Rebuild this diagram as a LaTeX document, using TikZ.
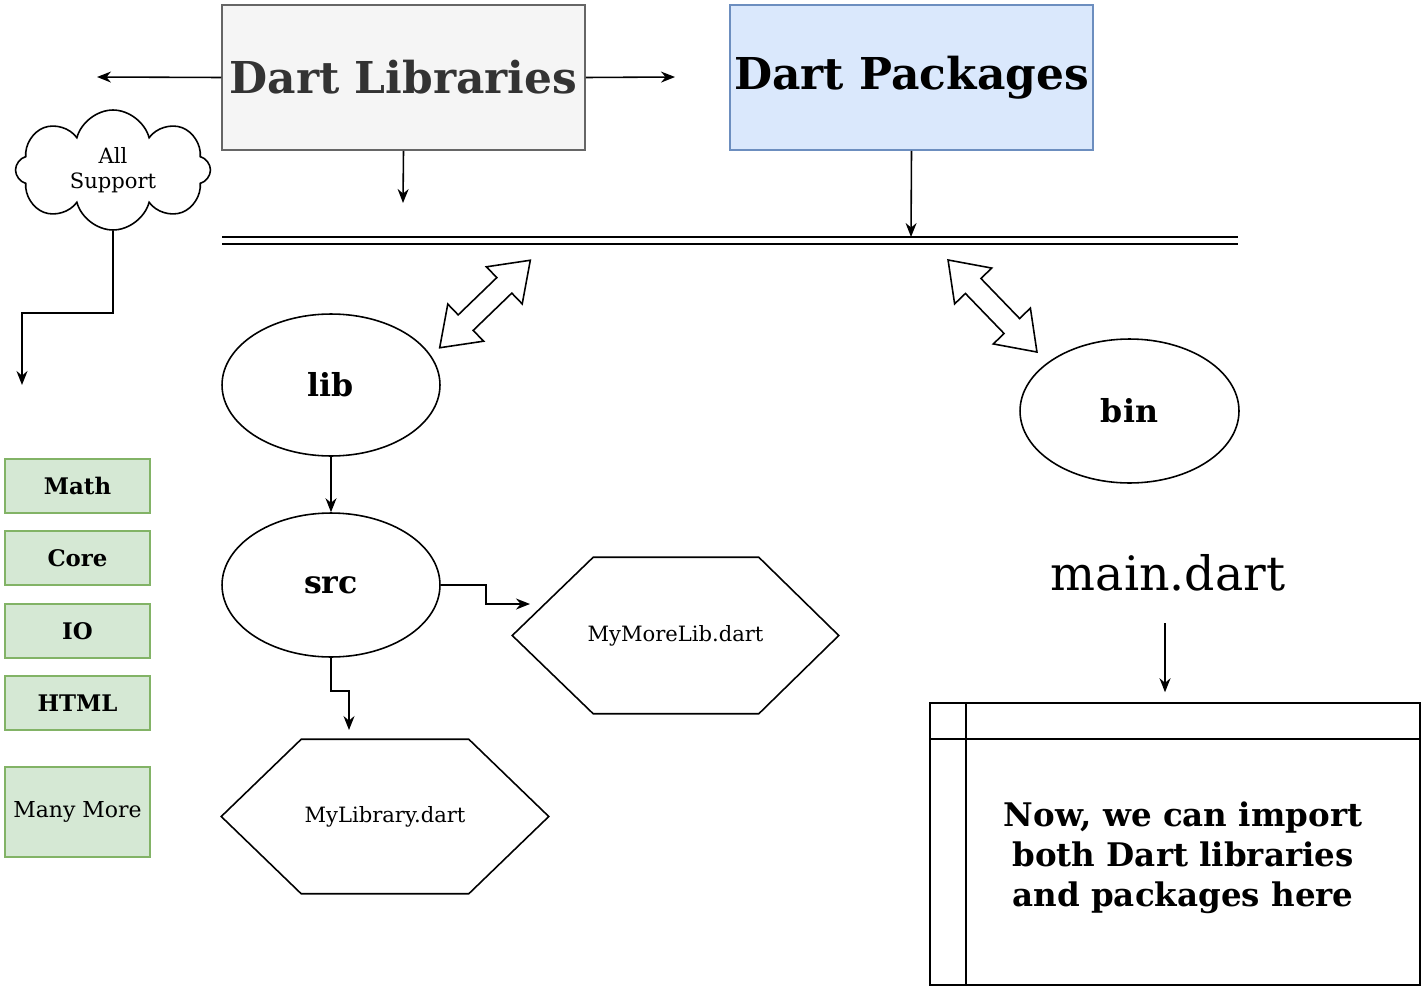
\documentclass[tikz,border=0pt]{standalone}
\usepackage{fontspec}
\setmainfont{DejaVu Serif}
\usetikzlibrary{arrows.meta,shapes.geometric,shapes.symbols,shapes.arrows,calc}
\definecolor{libfill}{HTML}{F5F5F5}
\definecolor{libdraw}{HTML}{666666}
\definecolor{libtext}{HTML}{333333}
\definecolor{pkgfill}{HTML}{DAE8FC}
\definecolor{pkgdraw}{HTML}{6C8EBF}
\definecolor{grfill}{HTML}{D5E8D4}
\definecolor{grdraw}{HTML}{82B366}
\begin{document}
\begin{tikzpicture}[x=0.02cm,y=-0.02cm,
  line width=0.9pt,
  arr/.style={draw, line width=0.9pt, -{Stealth[length=0.28cm,width=0.22cm]}},
  topbox/.style={rectangle, minimum width=7.26cm, minimum height=2.9cm, inner sep=0pt,
                 font=\fontsize{25}{30}\selectfont\bfseries},
  greenbox/.style={rectangle, draw=grdraw, fill=grfill, minimum width=2.9cm, minimum height=1.08cm,
                   inner sep=0pt, font=\fontsize{13}{15}\selectfont\bfseries},
  oval/.style={ellipse, draw, minimum width=4.36cm, minimum height=2.84cm, inner sep=0pt,
               font=\fontsize{18}{21}\selectfont\bfseries},
  hexlabel/.style={rectangle, draw=none, inner sep=0pt, font=\fontsize{12}{14}\selectfont},
  hexline/.style={draw, line width=0.9pt},
  blockarrow/.style={double arrow, draw, line width=0.9pt, inner xsep=0pt, inner ysep=0.2cm,
                     minimum height=2.52cm,
                     double arrow head extend=0.3cm, double arrow tip angle=71}
]
\useasboundingbox (0,0) rectangle (1425,990);

% top boxes
\node[topbox, draw=libdraw, fill=libfill, text=libtext] (dl) at (403.5,77.5) {Dart Libraries};
\node[topbox, draw=pkgdraw, fill=pkgfill] (dp) at (911.5,77.5) {Dart Packages};

\coordinate (dlleft) at (97,77);
\coordinate (dlright) at (675,77);
\coordinate (dldown) at (403,203);
\draw[arr] (dl.west) -- (dlleft);
\draw[arr] (dl.east) -- (dlright);
\draw[arr] (dl.south) -- (dldown);

% double bar
\coordinate (barL1) at (222,237);
\coordinate (barR1) at (1238,237);
\coordinate (barL2) at (222,244);
\coordinate (barR2) at (1238,244);
\draw (barL1) -- (barR1);
\draw (barL2) -- (barR2);
\coordinate (bartop) at (911,237);
\draw[arr] (dp.south) -- (bartop);

% cloud
\node[cloud, draw, cloud puffs=8, cloud ignores aspect, minimum width=3.9cm, minimum height=2.4cm,
      inner sep=0pt, align=center, font=\fontsize{12}{14}\selectfont] (cloud) at (113,170) {All\\Support};
\coordinate (cloudturn) at (22,313);
\coordinate (cloudend) at (22,385);
\draw[arr] (cloud.south) |- (cloudturn) -- (cloudend);

% green boxes
\node[greenbox] (math) at (77.5,486) {Math};
\node[greenbox] (core) at (77.5,558) {Core};
\node[greenbox] (io) at (77.5,631) {IO};
\node[greenbox] (html) at (77.5,703) {HTML};
\node[greenbox, minimum height=1.8cm, font=\fontsize{12.5}{15}\selectfont] (more) at (77.5,812) {Many More};

% ellipses
\node[oval] (lib) at (331,385) {lib};
\node[oval, minimum height=2.88cm] (src) at (331,585) {src};
\node[oval, minimum width=4.38cm, minimum height=2.88cm] (bin) at (1129.5,411) {bin};
\draw[arr] (lib.south) -- (src.north);

% block arrows
\node[blockarrow, rotate=44] (barrowL) at (485,304) {};
\node[blockarrow, rotate=-46, minimum height=2.56cm] (barrowR) at (992.5,306) {};

% hexagons
\node[hexlabel, minimum width=6.5cm, minimum height=3.1cm] (mymore) at (675.5,635.5) {MyMoreLib.dart};
\draw[hexline] (mymore.west) -- ([xshift=1.62cm]mymore.north west) -- ([xshift=-1.6cm]mymore.north east)
  -- (mymore.east) -- ([xshift=-1.6cm]mymore.south east) -- ([xshift=1.62cm]mymore.south west) -- cycle;
\node[hexlabel, minimum width=6.52cm, minimum height=3.06cm] (mylib) at (385,816.5) {MyLibrary.dart};
\draw[hexline] (mylib.west) -- ([xshift=1.6cm]mylib.north west) -- ([xshift=-1.6cm]mylib.north east)
  -- (mylib.east) -- ([xshift=-1.6cm]mylib.south east) -- ([xshift=1.6cm]mylib.south west) -- cycle;

\coordinate (mymorein) at (530,604);
\coordinate (mylibin) at (349,730);
\draw[arr] (src.east) -- ++(45,0) |- (mymorein);
\draw[arr] (src.south) -- ++(0,33) -| (mylibin);

% main.dart
\node[inner sep=0pt, font=\fontsize{27}{32}\selectfont] (maindart) at (1168,573) {main.dart};
\node[rectangle, draw, minimum width=9.8cm, minimum height=5.64cm, inner sep=0pt] (mainbox) at (1175,844) {};
\draw ([yshift=-0.74cm]mainbox.north west) -- ([yshift=-0.74cm]mainbox.north east);
\draw ([xshift=0.74cm]mainbox.north west) -- ([xshift=0.74cm]mainbox.south west);
\coordinate (mdx) at (1165,0);
\draw[arr, shorten <=0.62cm, shorten >=0.2cm] (maindart.south -| mdx) -- (mainbox.north -| mdx);
\node[align=center, inner sep=0pt, font=\fontsize{18.5}{22.7}\selectfont\bfseries] (maintext) at (1183,858)
  {Now, we can import\\both Dart libraries\\and packages here};
\end{tikzpicture}
\end{document}
